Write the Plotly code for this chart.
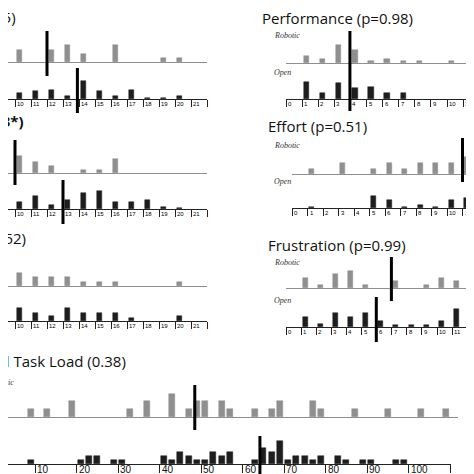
import plotly.graph_objects as go

W = H = 474
# ---------------- data (counts) ----------------
MENTAL_ROB_X = [10, 12, 13, 14, 16, 19, 20]
MENTAL_ROB_H = [12, 12, 17, 8, 17, 4, 4]
MENTAL_OPEN_X = [10, 11, 12, 13, 14, 15, 16, 17, 18, 19, 20]
MENTAL_OPEN_H = [6, 8, 9, 3, 18, 8, 3, 9, 1, 1.5, 3]
MENTAL_MED = [12.0, 13.9]

PHYS_ROB_X = [10, 11, 12, 14, 15, 16]
PHYS_ROB_H = [17, 11, 7, 3, 3, 14]
PHYS_OPEN_X = [10, 11, 12, 13, 14, 15, 16, 17, 18, 19, 20]
PHYS_OPEN_H = [7, 13, 4, 9, 16, 18, 7, 7, 9, 2, 1.5]
PHYS_MED = [10.0, 13.0]

TEMP_ROB_X = [10, 11, 12, 13, 14, 15, 16, 20]
TEMP_ROB_H = [13, 9, 9, 9, 4, 4, 4, 4]
TEMP_OPEN_X = [10, 11, 12, 13, 14, 15, 16, 17, 20]
TEMP_OPEN_H = [13, 7.7, 5, 13, 7.7, 7.7, 7.7, 2.7, 5]
TEMP_MED = [None, None]

PERF_ROB_X = [1, 2, 3, 4, 5, 6, 7, 8, 10, 12]
PERF_ROB_H = [6.7, 4.3, 17.7, 12.7, 2, 4.3, 2, 2, 2, 4.3]
PERF_OPEN_X = [1, 2, 3, 4, 5, 6, 7]
PERF_OPEN_H = [17.3, 5.7, 15.7, 11.3, 12.3, 5.7, 5.7]
PERF_MED = [3.97, None]

EFF_ROB_X = [1, 3, 5, 6, 7, 8, 9, 10, 11]
EFF_ROB_H = [5, 11, 5, 11, 5, 11, 11, 11, 17]
EFF_OPEN_X = [1, 5, 6, 7, 8, 9, 10, 11]
EFF_OPEN_H = [1.3, 12.3, 8, 1.3, 3.3, 1.3, 8, 10]
EFF_MED = [11.0, None]

FRUS_ROB_X = [1, 2, 3, 4, 5, 7, 9, 10, 11]
FRUS_ROB_H = [10, 2.7, 13.7, 17.3, 2.7, 6.7, 2.7, 10, 6.7]
FRUS_OPEN_X = [1, 2, 3, 4, 5, 6, 7, 8, 9, 10, 11]
FRUS_OPEN_H = [10, 3.3, 14, 10, 14, 5.7, 1.7, 1.7, 1.7, 5.7, 18.3]
FRUS_MED = [6.98, 5.98]

TLX_ROB_X = [9, 13, 19, 33, 37, 43, 47, 49, 51, 55, 57, 63, 67, 69, 77, 79, 87, 95, 103, 109]
TLX_ROB_H = [1, 1, 2, 1, 2, 3, 1, 2, 2, 2, 1, 1, 1, 2, 2, 1, 1, 1, 1, 1]
TLX_OPEN_X = [9, 21, 23, 25, 29, 31, 41, 43, 45, 47, 49, 51, 53, 55, 57, 63, 65, 67, 69, 71,
              73, 75, 77, 79, 83, 85, 89, 91, 97, 99]
TLX_OPEN_H = [1, 1, 2, 2, 1, 1, 2, 1, 3, 2, 1, 1, 3, 2, 3, 1, 4, 3, 6, 1,
              2, 2, 1, 2, 2, 1, 1, 1, 1, 1]
TLX_MED = [48.5, 64.2]

TITLES = ["Mental Demand (p=0.45)", "Physical Demand (p=0.03*)", "Temporal Demand (p=0.52)",
          "Performance (p=0.98)", "Effort (p=0.51)", "Frustration (p=0.99)",
          "Overall Task Load (0.38)"]

SMALL_TICKS_LEFT = list(range(9, 23))
SMALL_TICKS_RIGHT = list(range(0, 13))
TLX_TICKS = list(range(10, 111, 10))

# ---------------- layout helpers ----------------
fig = go.Figure()
layout = dict(width=W, height=H, margin=dict(l=0, r=0, t=0, b=0),
              paper_bgcolor="white", plot_bgcolor="rgba(0,0,0,0)",
              showlegend=False, bargap=0)
shapes, annots = [], []
ax_i = [0]

def px_x(p): return p / W
def px_y(p): return 1 - p / H

GRAY = "#8f8f8f"
DARK = "#1e1e1e"

def add_sub(x0, x1, rng, base, hpx, unit, xs, hs, off, width, color, line_color,
            ticks, labels, labfont, ticklen):
    ax_i[0] += 1
    i = ax_i[0]
    xn, yn = f"xaxis{i}", f"yaxis{i}"
    xr, yr = f"x{i}", f"y{i}"
    layout[xn] = dict(domain=[px_x(x0), px_x(x1)], range=rng, anchor=yr,
                      showgrid=False, zeroline=False, showline=True,
                      linecolor=line_color, linewidth=1.3,
                      ticks="outside" if ticks else "", tickvals=ticks or [],
                      ticklen=ticklen, tickwidth=1, tickcolor=line_color,
                      showticklabels=False, fixedrange=True)
    layout[yn] = dict(domain=[px_y(base), px_y(base - hpx)], range=[0, hpx / unit],
                      anchor=xr, visible=False, fixedrange=True)
    fig.add_trace(go.Bar(x=[v + off for v in xs], y=hs, width=width,
                         marker=dict(color=color, line=dict(color=color, width=0.5)),
                         xaxis=xr, yaxis=yr))
    if labels:
        for t in labels:
            annots.append(dict(x=t, y=px_y(base + ticklen / 2 + 1), xref=xr, yref="paper",
                               text=str(t), showarrow=False, xanchor="left", xshift=0,
                               yanchor="middle", font=labfont))
    return xr

def median(xr, v, y0, y1):
    if v is None:
        return
    shapes.append(dict(type="line", xref=xr, yref="paper", x0=v, x1=v,
                       y0=px_y(y0), y1=px_y(y1), line=dict(color="black", width=3)))

def title(text, x, y, anchor="left", bold=False):
    annots.append(dict(x=px_x(x), y=px_y(y), xref="paper", yref="paper",
                       text=f"<b>{text}</b>" if bold else text, showarrow=False,
                       xanchor=anchor, yanchor="middle",
                       font=dict(family="Open Sans", size=15, color="#111")))

def group_label(text, x, y):
    annots.append(dict(x=px_x(x), y=px_y(y), xref="paper", yref="paper", text=f"<i>{text}</i>",
                       showarrow=False, xanchor="left", yanchor="middle",
                       font=dict(family="Liberation Serif", size=8, color="#333")))

small_font = dict(family="Liberation Sans", size=6, color="#000")

def small_panel(x0, x1, rng, rb, ob, rx, rh, ox, oh, med, medy, ticks, labels):
    r = add_sub(x0, x1, rng, rb, 30, 1, rx, rh, 0.28, 0.33, GRAY, GRAY, None, None, small_font, 7)
    o = add_sub(x0, x1, rng, ob, 30, 1, ox, oh, 0.28, 0.33, DARK, "#222", ticks, labels, small_font, 7)
    median(r, med[0], *medy[0])
    median(o, med[1], *medy[1])

# left column (cut off at left)
LRANGE = [22 - 199 / 16, 22]
small_panel(0, 199, LRANGE, 54, 91, MENTAL_ROB_X, MENTAL_ROB_H, MENTAL_OPEN_X, MENTAL_OPEN_H,
            MENTAL_MED, [(23, 68), (60, 105)], SMALL_TICKS_LEFT, SMALL_TICKS_LEFT[1:-1])
small_panel(0, 199, LRANGE, 165, 201, PHYS_ROB_X, PHYS_ROB_H, PHYS_OPEN_X, PHYS_OPEN_H,
            PHYS_MED, [(132, 177), (172, 216)], SMALL_TICKS_LEFT, SMALL_TICKS_LEFT[1:-1])
small_panel(0, 199, LRANGE, 278, 313, TEMP_ROB_X, TEMP_ROB_H, TEMP_OPEN_X, TEMP_OPEN_H,
            TEMP_MED, [(0, 0), (0, 0)], SMALL_TICKS_LEFT, SMALL_TICKS_LEFT[1:-1])
title(TITLES[0], 10, 9, anchor="right")
title(TITLES[1], 18, 113, anchor="right", bold=True)
title(TITLES[2], 20, 230, anchor="right")

# right column
small_panel(278, 474, [0, (474 - 278) / 16.1], 55, 91, PERF_ROB_X, PERF_ROB_H, PERF_OPEN_X, PERF_OPEN_H,
            PERF_MED, [(23, 103), (0, 0)], SMALL_TICKS_RIGHT, SMALL_TICKS_RIGHT[:-1])
small_panel(284, 474, [0, (474 - 284) / 15.5], 166, 200, EFF_ROB_X, EFF_ROB_H, EFF_OPEN_X, EFF_OPEN_H,
            EFF_MED, [(130, 174), (0, 0)], SMALL_TICKS_RIGHT, SMALL_TICKS_RIGHT[:-1])
small_panel(278, 474, [0, (474 - 278) / 15.1], 280, 319, FRUS_ROB_X, FRUS_ROB_H, FRUS_OPEN_X, FRUS_OPEN_H,
            FRUS_MED, [(249, 293), (289, 334)], SMALL_TICKS_RIGHT, SMALL_TICKS_RIGHT[:-1])
title(TITLES[3], 252, 10)
title(TITLES[4], 258, 118)
title(TITLES[5], 258, 237)
for y in (28, 137, 254):
    group_label("Robotic", 264, y)
for y in (64, 174, 292):
    group_label("Open", 264, y)

# bottom overall panel
big_font = dict(family="Liberation Sans", size=10, color="#111")
v0 = 10 - 27 / 4.15
r = add_sub(0, 450, [v0, 10 + (450 - 27) / 4.15], 409, 30, 7.8, TLX_ROB_X, TLX_ROB_H, 0, 1.45,
            GRAY, GRAY, None, None, big_font, 7)
o = add_sub(0, 443, [v0, 10 + (443 - 27) / 4.15], 456, 30, 3.9, TLX_OPEN_X, TLX_OPEN_H, 0, 1.45,
            DARK, "#222", TLX_TICKS, TLX_TICKS[:-1], big_font, 8)
median(r, TLX_MED[0], 377, 422)
median(o, TLX_MED[1], 428, 476)
title(TITLES[6], 120, 353, anchor="right")
group_label("Robotic", -22, 374)

layout["shapes"] = shapes
layout["annotations"] = annots
fig.update_layout(**layout)
fig.write_html("out.html")
